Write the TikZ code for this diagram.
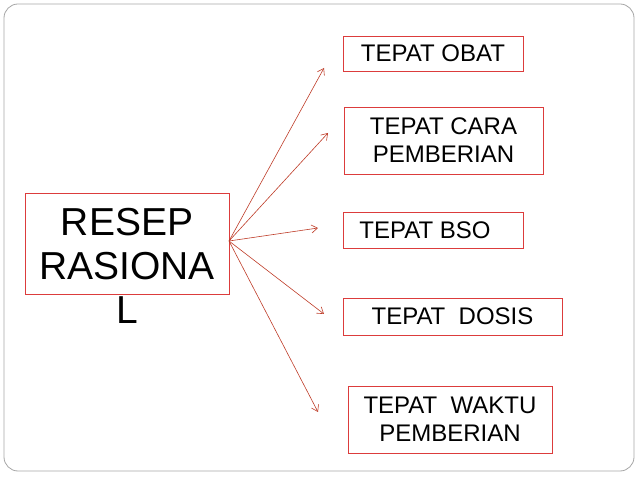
\documentclass[tikz,border=0pt]{standalone}
\usepackage{fontspec}
\setmainfont{Liberation Sans}
\usetikzlibrary{arrows.meta}
\definecolor{boxred}{RGB}{220,60,60}
\definecolor{arr}{RGB}{190,60,40}
\tikzset{
 item/.style={draw=boxred, line width=0.8pt, inner sep=0pt, align=center, font=\fontsize{24}{28}\selectfont},
 link/.style={draw=arr, line width=0.6pt, -{Straight Barb[length=6pt,width=8pt]}}
}
\begin{document}
\begin{tikzpicture}[x=1pt,y=-1pt]
\useasboundingbox (0,0) rectangle (638,478);
\draw[gray!70, line width=0.8pt, rounded corners=14pt] (4,4) rectangle (634,471);
\node[draw=boxred, line width=0.8pt, minimum width=204pt, minimum height=101pt] (rr) at (127,243.5) {};
\node[align=center, inner sep=0pt, font=\fontsize{39}{44}\selectfont] (rt) at (127,266) {RESEP\\RASIONA\\L};
\node[item, minimum width=180pt, minimum height=35pt] (a) at (433,53.5) {TEPAT OBAT};
\node[item, minimum width=199pt, minimum height=67pt] (b) at (443.5,140.5) {TEPAT CARA\\PEMBERIAN};
\node[item, minimum width=180pt, minimum height=36pt] (c) at (433,230) {TEPAT BSO\hspace{16pt}};
\node[item, minimum width=219pt, minimum height=37pt] (d) at (452.5,316.5) {TEPAT\ \ DOSIS};
\node[item, minimum width=204pt, minimum height=67pt] (e) at (450,419.5) {TEPAT\ \ WAKTU\\PEMBERIAN};
\coordinate (s) at (229,241);
\coordinate (ta) at (324,68);
\coordinate (tb) at (328,133);
\coordinate (tc) at (318,228);
\coordinate (td) at (324,314);
\coordinate (te) at (318,412);
\foreach \t in {ta,tb,tc,td,te} \draw[link] (s) -- (\t);
\end{tikzpicture}
\end{document}
